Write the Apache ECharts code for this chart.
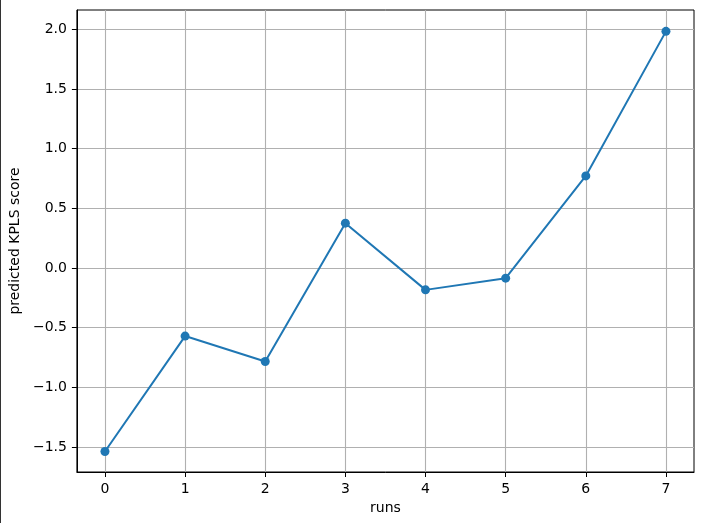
<!DOCTYPE html>
<html><head><meta charset="utf-8">
<script src="https://cdn.jsdelivr.net/npm/echarts@6/dist/echarts.min.js"></script>
<style>html,body{margin:0;padding:0;background:#fff}#c{width:702px;height:523px}</style>
</head><body><div id="c"></div>
<script>
const runs = [0, 1, 2, 3, 4, 5, 6, 7];
const scores = [-1.537, -0.570, -0.783, 0.376, -0.183, -0.085, 0.772, 1.983];
const xTicks = [0, 1, 2, 3, 4, 5, 6, 7];
const yTicks = [-1.5, -1.0, -0.5, 0.0, 0.5, 1.0, 1.5, 2.0];
const xLabel = 'runs';
const yLabel = 'predicted KPLS score';

const font = 'DejaVu Sans';
const fmtY = v => (v < 0 ? '\u2212' : '') + Math.abs(v).toFixed(1);

const chart = echarts.init(document.getElementById('c'), null, {renderer: 'canvas'});
chart.setOption({
  animation: false,
  backgroundColor: '#fff',
  graphic: [{type: 'rect', shape: {x: 0, y: 0, width: 1, height: 523}, style: {fill: '#333'}}],
  grid: {left: 74, right: 8, top: 10, bottom: 51, show: true, borderColor: '#000', borderWidth: 1, backgroundColor: 'transparent'},
  xAxis: {
    type: 'value', min: -0.35, max: 7.35,
    name: xLabel, nameLocation: 'middle', nameGap: 28,
    nameTextStyle: {fontFamily: font, fontSize: 14, color: '#000'},
    axisLine: {show: true, onZero: false, lineStyle: {color: '#000', width: 1}},
    axisTick: {show: true, length: 5, customValues: xTicks, lineStyle: {color: '#000'}},
    axisLabel: {margin: 10, customValues: xTicks, fontFamily: font, fontSize: 14, color: '#000', formatter: v => String(Math.round(v))},
    splitLine: {show: true, lineStyle: {color: '#b0b0b0', width: 1.1}}
  },
  yAxis: {
    type: 'value', min: -1.709, max: 2.162,
    name: yLabel, nameLocation: 'middle', nameGap: 45, nameRotate: 90,
    nameTextStyle: {fontFamily: font, fontSize: 14, color: '#000'},
    axisLine: {show: true, onZero: false, lineStyle: {color: '#000', width: 1}},
    axisTick: {show: true, length: 5, customValues: yTicks, lineStyle: {color: '#000'}},
    axisLabel: {margin: 10, customValues: yTicks, fontFamily: font, fontSize: 14, color: '#000', formatter: fmtY},
    splitLine: {show: true, lineStyle: {color: '#b0b0b0', width: 1.1}}
  },
  series: [{
    type: 'line',
    data: runs.map((r, i) => [r, scores[i]]),
    symbol: 'circle', symbolSize: 9,
    lineStyle: {color: '#1f77b4', width: 2},
    itemStyle: {color: '#1f77b4'},
    z: 5
  }]
});
</script></body></html>
